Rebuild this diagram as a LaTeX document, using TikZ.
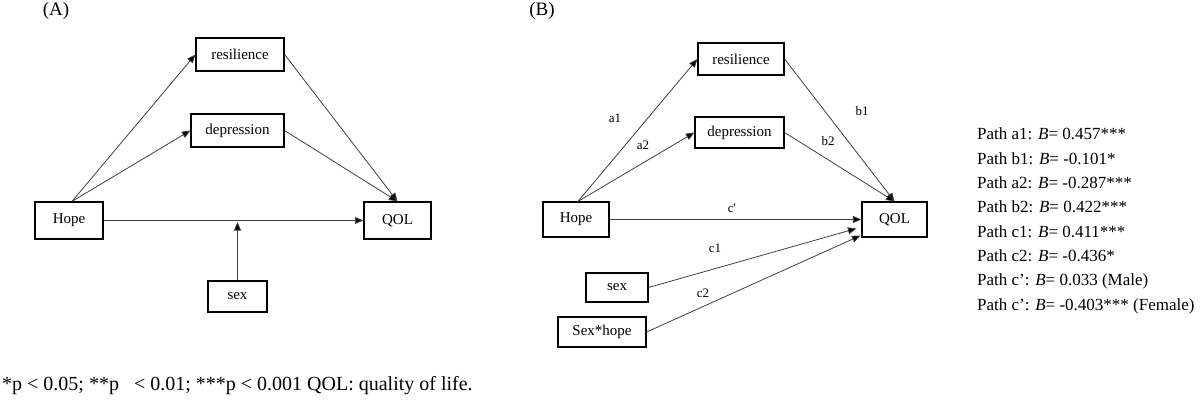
\documentclass[tikz,border=0pt]{standalone}
\usepackage{fontspec}
\setmainfont{Liberation Serif}
\usetikzlibrary{arrows.meta,calc}
\begin{document}
\begin{tikzpicture}[x=1pt,y=-1pt,
  box/.style={draw=black,line width=1.2pt,inner sep=0pt,font=\fontsize{15}{18}\selectfont},
  conn/.style={draw=black!75,line width=0.8pt,-{Triangle[length=8.5pt,width=7pt,fill=black]}},
  lab/.style={font=\fontsize{13}{15}\selectfont,inner sep=0pt},
  restxt/.style={font=\fontsize{17}{20}\selectfont,anchor=base west,inner sep=0pt},
  panel/.style={font=\fontsize{19}{22}\selectfont,inner sep=0pt},
]
\useasboundingbox (0,0) rectangle (1200,401);

% ---------- Panel A ----------
\node[panel] (pA) at (56,11) {(A)};
\node[box,minimum width=88pt,minimum height=33pt] (resA) at (240,54.5) {resilience};
\node[box,minimum width=93pt,minimum height=33pt] (depA) at (237.5,130.5) {depression};
\node[box,minimum width=68pt,minimum height=37pt] (hopeA) at (69,220.5) {Hope};
\node[box,minimum width=67pt,minimum height=37pt] (qolA) at (397.5,220.5) {QOL};
\node[box,minimum width=59pt,minimum height=31pt] (sexA) at (237.5,296.5) {sex};
\coordinate (hopeAtop) at ($(hopeA.north)+(3,0)$);
\coordinate (mA) at (sexA.north |- hopeA.east);
\draw[conn] (hopeAtop) -- (resA.west);
\draw[conn] (hopeAtop) -- (depA.west);
\draw[conn] (resA.east) -- (qolA.north);
\draw[conn] (depA.east) -- (qolA.north);
\draw[conn] (hopeA.east) -- (qolA.west);
\draw[conn,shorten >=1.5pt] (sexA.north) -- (mA);

% ---------- Panel B ----------
\node[panel] (pB) at (542,11) {(B)};
\node[box,minimum width=86pt,minimum height=32pt] (resB) at (741,59) {resilience};
\node[box,minimum width=89pt,minimum height=31pt] (depB) at (739.5,132.5) {depression};
\node[box,minimum width=66pt,minimum height=35pt] (hopeB) at (576,219.5) {Hope};
\node[box,minimum width=65pt,minimum height=35pt] (qolB) at (894.5,219.5) {QOL};
\node[box,minimum width=62pt,minimum height=29pt] (sexB) at (617,287.5) {sex};
\node[box,minimum width=88pt,minimum height=30pt] (sxhB) at (602,332) {Sex*hope};
\coordinate (hopeBtop) at ($(hopeB.north)+(2,0)$);
\coordinate (qc1) at ($(qolB.west)+(-5,9)$);
\coordinate (qc2) at ($(qolB.south west)+(-1,-2)$);
\draw[conn] (hopeBtop) -- (resB.west);
\draw[conn] (hopeBtop) -- (depB.west);
\draw[conn] (resB.east) -- (qolB.north);
\draw[conn] (depB.east) -- (qolB.north);
\draw[conn] (hopeB.east) -- (qolB.west);
\draw[conn] (sexB.east) -- (qc1);
\draw[conn] (sxhB.east) -- (qc2);

\node[lab] (la1) at (615,118) {a1};
\node[lab] (la2) at (643,145) {a2};
\node[lab] (lb1) at (862,111) {b1};
\node[lab] (lb2) at (828,141) {b2};
\node[lab] (lcp) at (732,208) {c\textquotesingle};
\node[lab] (lc1) at (715,248) {c1};
\node[lab] (lc2) at (703,293) {c2};

% ---------- Results ----------
\node[restxt] (r1) at (977,140) {Path a1: \textit{B}= 0.457***};
\node[restxt] (r2) at (977,164.3) {Path b1: \textit{B}= -0.101*};
\node[restxt] (r3) at (977,188.6) {Path a2: \textit{B}= -0.287***};
\node[restxt] (r4) at (977,212.9) {Path b2: \textit{B}= 0.422***};
\node[restxt] (r5) at (977,237.2) {Path c1: \textit{B}= 0.411***};
\node[restxt] (r6) at (977,261.5) {Path c2: \textit{B}= -0.436*};
\node[restxt] (r7) at (977,285.8) {Path c’: \textit{B}= 0.033 (Male)};
\node[restxt] (r8) at (977,310.1) {Path c’: \textit{B}= -0.403*** (Female)};

% ---------- Footnote ----------
\node[font=\fontsize{20}{24}\selectfont,anchor=base west,inner sep=0pt] (fn) at (2,390)
  {*p {\textless} 0.05; **p \ \ {\textless} 0.01; ***p {\textless} 0.001 QOL: quality of life.};
\end{tikzpicture}
\end{document}
